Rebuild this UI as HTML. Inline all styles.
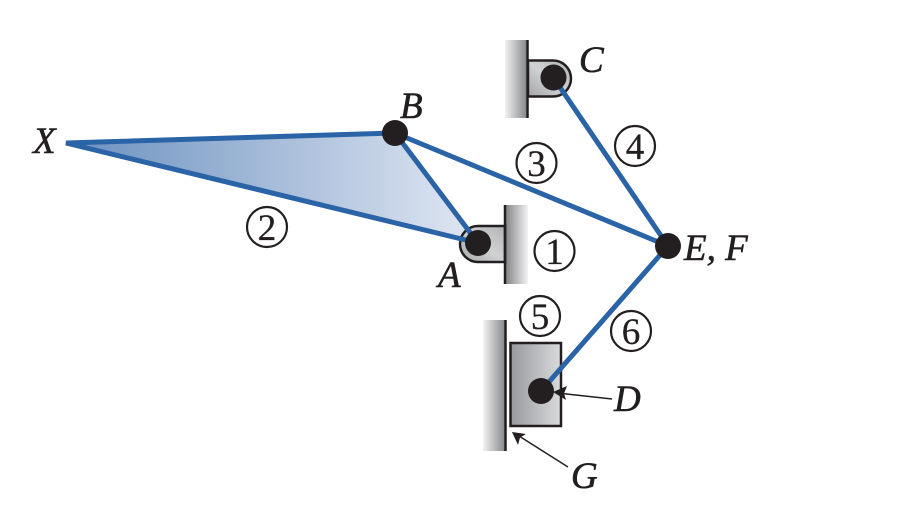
<!DOCTYPE html>
<html>
<head>
<meta charset="utf-8">
<style>
html,body{margin:0;padding:0;background:#fff;}
svg{display:block;}
text{font-family:"Liberation Serif",serif;fill:#231f20;}
.l{font-style:italic;font-size:37px;stroke:#231f20;stroke-width:0.6;}
.n{font-size:37px;text-anchor:middle;stroke:#231f20;stroke-width:0.3;}
.c{fill:#fff;stroke:#231f20;stroke-width:2.2;}
.b{stroke:#2a63a6;stroke-width:5;fill:none;}
.k{stroke:#231f20;fill:none;}
</style>
</head>
<body>
<svg width="922" height="510" viewBox="0 0 922 510" xmlns="http://www.w3.org/2000/svg">
<defs>
<linearGradient id="tri" gradientUnits="userSpaceOnUse" x1="66" y1="0" x2="478" y2="0">
<stop offset="0" stop-color="#6a90bf"/>
<stop offset="1" stop-color="#e1e7f3"/>
</linearGradient>
<linearGradient id="wl" x1="0" x2="1" y1="0" y2="0">
<stop offset="0" stop-color="#f2f2f3"/>
<stop offset="1" stop-color="#808285"/>
</linearGradient>
<linearGradient id="wr" x1="0" x2="1" y1="0" y2="0">
<stop offset="0" stop-color="#808285"/>
<stop offset="1" stop-color="#f2f2f3"/>
</linearGradient>
<linearGradient id="br1" x1="0" x2="1" y1="1" y2="0">
<stop offset="0" stop-color="#a4a6a8"/>
<stop offset="0.5" stop-color="#d0d1d3"/>
<stop offset="1" stop-color="#b0b2b4"/>
</linearGradient>
<linearGradient id="blk" x1="0" x2="1" y1="0" y2="0">
<stop offset="0" stop-color="#97999c"/>
<stop offset="1" stop-color="#d9dadc"/>
</linearGradient>
</defs>

<!-- link 2 triangle -->
<polygon points="66,143 395,133 478,243" fill="url(#tri)"/>

<!-- supports -->
<rect x="505" y="40" width="23" height="78" fill="url(#wl)"/>
<path d="M528,60.500 H553 A18,18 0 0 1 553,96.500 H528 Z" fill="url(#br1)" stroke="#231f20" stroke-width="2.500"/>
<line x1="527.500" y1="40" x2="527.500" y2="118" class="k" stroke-width="2.500"/>

<rect x="505" y="205" width="23" height="79" fill="url(#wr)"/>
<path d="M505,226 H478 A18,18 0 0 0 478,262 H505 Z" fill="url(#br1)" stroke="#231f20" stroke-width="2.500"/>
<line x1="505" y1="205" x2="505" y2="284" class="k" stroke-width="2.500"/>

<rect x="483" y="320" width="23" height="131" fill="url(#wl)"/>
<line x1="505.500" y1="320" x2="505.500" y2="451" class="k" stroke-width="2.500"/>

<rect x="510.500" y="343" width="50.500" height="83" fill="url(#blk)" stroke="#231f20" stroke-width="2.500"/>

<!-- links -->
<path class="b" d="M66,143 L395,133 L478,243 Z" stroke-linejoin="bevel"/>
<line class="b" x1="395" y1="133" x2="668" y2="246"/>
<line class="b" x1="553" y1="77" x2="668" y2="246"/>
<line class="b" x1="668" y1="246" x2="541" y2="391"/>

<!-- pins -->
<circle cx="395" cy="133" r="13" fill="#231f20"/>
<circle cx="478" cy="243" r="13" fill="#231f20"/>
<circle cx="553.500" cy="77.500" r="13" fill="#231f20"/>
<circle cx="668" cy="246" r="13" fill="#231f20"/>
<circle cx="541" cy="391" r="13" fill="#231f20"/>

<!-- leader arrows -->
<line x1="612" y1="399" x2="562" y2="393.500" class="k" stroke-width="1.500"/>
<polygon points="553,392 567,386 564,393.500 566,400" fill="#231f20"/>
<line x1="568" y1="467" x2="519" y2="436" class="k" stroke-width="1.500"/>
<polygon points="512,432 526,434 520,437.500 518,445" fill="#231f20"/>

<!-- numbered circles -->
<circle class="c" cx="554.500" cy="251" r="20"/><text class="n" x="554.500" y="264">1</text>
<circle class="c" cx="267" cy="227" r="20"/><text class="n" x="267" y="240">2</text>
<circle class="c" cx="536.500" cy="163" r="20"/><text class="n" x="536.500" y="176">3</text>
<circle class="c" cx="635" cy="146" r="20"/><text class="n" x="635" y="159">4</text>
<circle class="c" cx="540" cy="316" r="20"/><text class="n" x="540" y="329">5</text>
<circle class="c" cx="631" cy="331" r="20"/><text class="n" x="631" y="344">6</text>

<!-- labels -->
<text class="l" x="33" y="153">X</text>
<text class="l" x="400" y="118">B</text>
<text class="l" x="579" y="72">C</text>
<text class="l" x="438" y="287">A</text>
<text class="l" x="684" y="260">E, F</text>
<text class="l" x="614" y="411">D</text>
<text class="l" x="571" y="488">G</text>
</svg>
</body>
</html>
